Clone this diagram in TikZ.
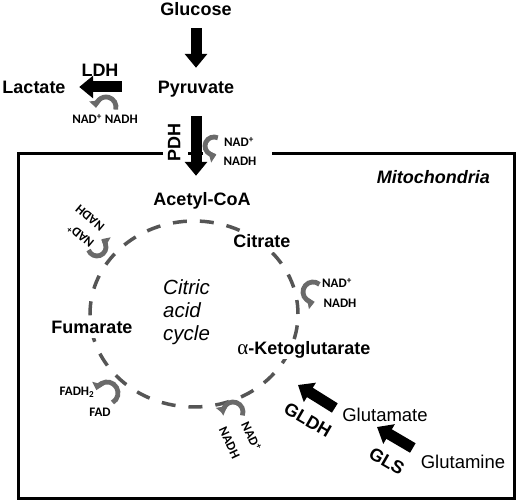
\documentclass[tikz,border=0pt]{standalone}
\usepackage{fontspec}
\setmainfont{Liberation Sans}
\newfontfamily\smallfont{Carlito}
\newfontfamily\greekserif{Liberation Serif}
\usetikzlibrary{arrows.meta}
\definecolor{arrowgray}{HTML}{6A6A6A}
\definecolor{dashgray}{HTML}{555555}
\begin{document}
\begin{tikzpicture}[x=1pt,y=1pt,
  lab/.style={font=\bfseries\fontsize{18}{20}\selectfont, text height=13pt, text depth=4pt, inner sep=1pt},
  wlab/.style={lab, fill=white},
  reg/.style={font=\fontsize{18.5}{20}\selectfont, text height=13.5pt, text depth=4pt, inner sep=1pt},
  sm/.style={font=\smallfont\bfseries\fontsize{13}{14}\selectfont, inner sep=0.5pt},
  fat/.style={line width=11pt, -{Triangle[width=22pt,length=14pt]}},
  cyc/.style={draw=arrowgray, line width=4.8pt, -{Triangle[width=12pt,length=7pt]}},
  dashring/.style={draw=dashgray, line width=3.5pt, dash pattern=on 14pt off 13pt}]
\useasboundingbox (0,0) rectangle (520,502);
\fill[white] (0,0) rectangle (520,502);
% mitochondrion box
\draw[line width=3pt] (163,348.5) -- (18.5,348.5) -- (18.5,3) -- (514.5,3) -- (514.5,348.5) -- (272,348.5);
\draw[line width=3pt] (188,348.5) -- (203,348.5);
% citric acid cycle ring
\draw[dashring] (194,188) ellipse [x radius=104, y radius=93];
% labels
\node[lab] (glucose) at (196,491.2) {Glucose};
\node[lab] (pyruvate) at (196,413.2) {Pyruvate};
\node[lab] (lactate) at (34,413.2) {Lactate};
\node[lab] (ldh) at (100,429.5) {LDH};
\node[lab, rotate=90] (pdh) at (175.8,359) {PDH};
\node[lab] (acetyl) at (202,301.2) {Acetyl-CoA};
\node[wlab] (citrate) at (262,259.2) {Citrate};
\node[wlab] (akg) at (304,152.2) {{\greekserif\mdseries\fontsize{21}{20}\selectfont α}-Ketoglutarate};
\node[wlab] (fumarate) at (92,173.2) {Fumarate};
\node[reg] (glutamate) at (385,85.2) {Glutamate};
\node[reg] (glutamine) at (463,38.2) {Glutamine};
\node[lab, rotate=-30] (gldh) at (307,80.4) {GLDH};
\node[lab, rotate=-30] (gls) at (386,39.4) {GLS};
\node[lab, font=\bfseries\itshape\fontsize{18}{20}\selectfont, anchor=east] (mito) at (491,323.2) {Mitochondria};
\node[font=\itshape\fontsize{20.5}{23}\selectfont, align=left, anchor=west, inner sep=0pt] (tca) at (163,190) {Citric\\acid\\cycle};
% black arrows
\coordinate (gldhtip) at (298,117);
\coordinate (glstip) at (377,75);
\draw[fat, shorten <=7.7pt, shorten >=11.3pt] (glucose.south) -- (pyruvate.north);
\draw[fat, shorten <=17.7pt, shorten >=15.3pt] (pyruvate.south) -- (pyruvate.south |- acetyl.north);
\draw[fat, shorten <=35pt, shorten >=12.5pt] ([yshift=1.8pt]pyruvate.west) -- ([yshift=1.8pt]pyruvate.west -| lactate.east);
\draw[fat] ([shift={(-6.3,8.8)}]glutamate.west) -- (gldhtip);
\draw[fat] ([shift={(-6.8,15.8)}]glutamine.west) -- (glstip);
% grey cofactor arrows
\draw[cyc] ([shift={(-15:10)}]106,395) arc[start angle=-15, end angle=185, radius=10];
\draw[cyc] ([shift={(65:9)}]214,356) arc[start angle=65, end angle=285, radius=9];
\draw[cyc] ([shift={(200:9)}]97,255) arc[start angle=200, end angle=420, radius=9];
\draw[cyc] ([shift={(50:10)}]313,210) arc[start angle=50, end angle=280, radius=10];
\draw[cyc] ([shift={(-20:10)}]233,90) arc[start angle=-20, end angle=190, radius=10];
\draw[cyc] ([shift={(-60:11)}]107,109) arc[start angle=-60, end angle=165, radius=11];
% cofactor labels
\node[sm] (nl) at (105,383) {NAD\textsuperscript{+} NADH};
\node[sm] (np1) at (239,360) {NAD\textsuperscript{+}};
\node[sm] (np2) at (240,341) {NADH};
\node[sm, rotate=140] (nt1) at (90,284) {NADH};
\node[sm, rotate=140] (nt2) at (80.5,266) {NAD\textsuperscript{+}};
\node[sm] (nr1) at (337,219) {NAD\textsuperscript{+}};
\node[sm] (nr2) at (340,199) {NADH};
\node[sm, rotate=-65] (nb1) at (229.5,59) {NADH};
\node[sm, rotate=-65] (nb2) at (251.5,66) {NAD\textsuperscript{+}};
\node[sm] (fadh) at (77,110) {FADH\textsubscript{2}};
\node[sm] (fad) at (100,90) {FAD};
\end{tikzpicture}
\end{document}
